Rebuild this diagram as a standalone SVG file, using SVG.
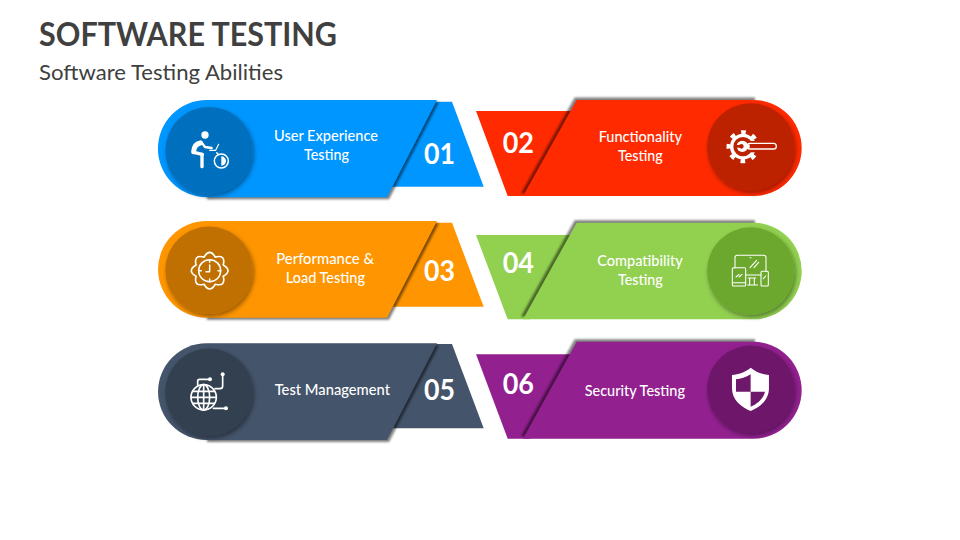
<svg xmlns="http://www.w3.org/2000/svg" width="960" height="540" viewBox="0 0 960 540">
<style>
text{font-family:"Lato","Liberation Sans",sans-serif;fill:#fff}
.t{font-weight:700;fill:#404040;font-size:31.5px}
.s{fill:#404040;font-size:20.5px}
.l{font-size:14.4px;font-weight:500}
.n{font-size:29px;font-weight:700}
.sh{fill:#000;opacity:.5;filter:url(#blur)}
.c{filter:url(#cs)}
.st{fill:none;stroke:#fff;stroke-linecap:round;stroke-linejoin:round}
.w{fill:#fff}
</style>
<defs>
<filter id="blur" x="-10%" y="-10%" width="120%" height="120%"><feGaussianBlur stdDeviation="1.1"/></filter>
<filter id="cs" x="-20%" y="-20%" width="140%" height="140%"><feDropShadow dx="1.5" dy="2.5" stdDeviation="2.2" flood-color="#000" flood-opacity=".4"/></filter>
</defs>
<g id="title">
<text class="t" x="39" y="46" textLength="298" lengthAdjust="spacingAndGlyphs">SOFTWARE TESTING</text>
<text class="s" x="39" y="80" textLength="244" lengthAdjust="spacingAndGlyphs">Software Testing Abilities</text>
</g>

<g id="node-01">
<polygon fill="#0096FF" points="380,101.7 452,101.7 483.7,186.7 380,186.7"/>
<polygon class="sh" transform="translate(2,2)" points="205,100 437,100 387,197.3 205,197.3"/>
<path fill="#0096FF" d="M206.6,100H437L387,197.3H206.6A48.65,48.65 0 0 1 206.6,100Z"/>
<circle class="c" fill="#0070BE" cx="209" cy="150.7" r="43.7"/>
<g transform="translate(175,115) scale(.3333)">
<circle class="w" cx="90" cy="60" r="11"/>
<path class="st" stroke-width="15" d="M76,84C65,86 57,94 56,110"/>
<path class="st" stroke-width="10" d="M56,112L82,118"/>
<path class="st" stroke-width="10" d="M81,118V155"/>
<path class="st" stroke-width="7" d="M78,80L90,96L110,99"/>
<path class="st" stroke-width="3.5" d="M104,106H122L131,88"/>
<circle class="st" stroke-width="4.5" cx="139" cy="138" r="21"/>
<path class="w" d="M139,124A14,14 0 0 1 139,152Z"/>
<path class="st" stroke-width="4" d="M125,113L131,119"/>
</g>
<text class="l" x="274" y="141" textLength="104" lengthAdjust="spacingAndGlyphs">User Experience</text>
<text class="l" x="304" y="160" textLength="45" lengthAdjust="spacingAndGlyphs">Testing</text>
<text class="n" x="424" y="164" textLength="31" lengthAdjust="spacingAndGlyphs">01</text>
</g>

<g id="node-02">
<polygon fill="#FF2A00" points="476,111 580,111 530,196 507.7,196"/>
<polygon class="sh" transform="translate(-2,-2.5)" points="576.7,100 757,100 757,196 523,196"/>
<path fill="#FF2A00" d="M576.7,100H753.7A48,48 0 0 1 753.7,196H523Z"/>
<circle class="c" fill="#BC2000" cx="750.7" cy="147" r="43.7"/>
<g transform="translate(715,115) scale(.3333)">
<circle fill="none" stroke="#fff" stroke-width="13" stroke-dasharray="14 19.8" stroke-dashoffset="7" cx="84" cy="95" r="43"/>
<circle fill="none" stroke="#fff" stroke-width="10" cx="84" cy="95" r="34"/>
<rect fill="#BC2000" x="105" y="78" width="36" height="34"/>
<rect fill="#BC2000" stroke="#fff" stroke-width="4" x="96" y="85" width="88" height="17" rx="8.5"/>
<circle class="w" cx="82" cy="94" r="17"/>
<circle fill="#BC2000" cx="79" cy="94" r="7"/>
<rect fill="#BC2000" x="60" y="90" width="18" height="8"/>
<rect class="w" x="94" y="88" width="10" height="11"/>
</g>
<text class="l" x="598.7" y="142" textLength="83.3" lengthAdjust="spacingAndGlyphs">Functionality</text>
<text class="l" x="618" y="161" textLength="44.7" lengthAdjust="spacingAndGlyphs">Testing</text>
<text class="n" x="502.7" y="153" textLength="31.3" lengthAdjust="spacingAndGlyphs">02</text>
</g>

<g id="node-03">
<polygon fill="#FF9500" points="380,222.7 452,222.7 483.7,306.7 380,306.7"/>
<polygon class="sh" transform="translate(2,2)" points="205,221 437,221 387,317.7 205,317.7"/>
<path fill="#FF9500" d="M206.4,221H437L387,317.7H206.4A48.35,48.35 0 0 1 206.4,221Z"/>
<circle class="c" fill="#C07000" cx="209" cy="270.3" r="43.7"/>
<g transform="translate(175,237) scale(.3333) translate(104,101)" class="st" stroke-width="4.5">
<path transform="scale(1.1)" d="M37,-15.3Q63,0 37,15.3Q44.5,44.5 15.3,37Q0,63 -15.3,37Q-44.5,44.5 -37,15.3Q-63,0 -37,-15.3Q-44.5,-44.5 -15.3,-37Q0,-63 15.3,-37Q44.5,-44.5 37,-15.3Z"/>
<circle r="33"/>
<path d="M0,-17V3H-11"/>
<path d="M0,-33V-25M0,33V25M-33,0H-25M33,0H25"/>
</g>
<text class="l" x="276.3" y="264" textLength="97.7" lengthAdjust="spacingAndGlyphs">Performance &amp;</text>
<text class="l" x="285.7" y="283" textLength="79.3" lengthAdjust="spacingAndGlyphs">Load Testing</text>
<text class="n" x="424" y="281.3" textLength="31" lengthAdjust="spacingAndGlyphs">03</text>
</g>

<g id="node-04">
<polygon fill="#92D050" points="476,235 580,235 530,319.3 507.7,319.3"/>
<polygon class="sh" transform="translate(-2,-2.5)" points="576.7,222.7 757,222.7 757,319.3 523,319.3"/>
<path fill="#92D050" d="M576.7,222.7H753.4A48.3,48.3 0 0 1 753.4,319.3H523Z"/>
<circle class="c" fill="#6CA82E" cx="750.7" cy="271" r="43.7"/>
<g transform="translate(715,237) scale(.3333)" class="st" stroke-width="3.2">
<path d="M60,92V62Q60,55 67,55H146Q153,55 153,62V103M92,114H138"/>
<path d="M105,62H108"/>
<path d="M105,92L125,70M117,92L131,76"/>
<rect x="52" y="92" width="40" height="55" rx="3"/>
<path d="M52,137H92M63,120L72,112M72,120L81,112"/>
<rect x="138" y="103" width="22" height="44" rx="3"/>
<path d="M145,125L152,117"/>
<path d="M104,124V143M118,124V143M98,144H128M100,123H122"/>
</g>
<text class="l" x="597.3" y="266" textLength="85.4" lengthAdjust="spacingAndGlyphs">Compatibility</text>
<text class="l" x="618" y="285" textLength="44.7" lengthAdjust="spacingAndGlyphs">Testing</text>
<text class="n" x="502.7" y="273" textLength="31.3" lengthAdjust="spacingAndGlyphs">04</text>
</g>

<g id="node-05">
<polygon fill="#44546A" points="380,344 452,344 483.7,428.3 380,428.3"/>
<polygon class="sh" transform="translate(2,2)" points="205,343.3 437,343.3 387,440 205,440"/>
<path fill="#44546A" d="M206.4,343.3H437L387,440H206.4A48.35,48.35 0 0 1 206.4,343.3Z"/>
<circle class="c" fill="#333F50" cx="209" cy="392.3" r="43.7"/>
<g transform="translate(175,360) scale(.3333)" class="st" stroke-width="5">
<circle cx="86" cy="112" r="38"/>
<ellipse cx="86" cy="112" rx="18" ry="38"/>
<path d="M86,74V150M48,112H124M54,94H118M54,130H118"/>
<path d="M68,76V64Q68,58 74,58H105M120,86H135Q143,86 143,78V44M115,145H153"/>
<circle class="w" stroke="none" cx="105" cy="58" r="6"/>
<circle class="w" stroke="none" cx="143" cy="43" r="6"/>
<circle class="w" stroke="none" cx="153" cy="145" r="6"/>
</g>
<text class="l" x="274.7" y="395" textLength="115.3" lengthAdjust="spacingAndGlyphs">Test Management</text>
<text class="n" x="424" y="400" textLength="31" lengthAdjust="spacingAndGlyphs">05</text>
</g>

<g id="node-06">
<polygon fill="#92208F" points="476,354.3 580,354.3 530,438.7 507.7,438.7"/>
<polygon class="sh" transform="translate(-2,-2.5)" points="576.7,341.7 757,341.7 757,438.7 523,438.7"/>
<path fill="#92208F" d="M576.7,341.7H753.2A48.5,48.5 0 0 1 753.2,438.7H523Z"/>
<circle class="c" fill="#6D186B" cx="750.7" cy="389.3" r="43.7"/>
<g transform="translate(470,335) scale(.3333)">
<path class="w" d="M842,98C825,112 805,118 786,120L786,160C786,195 815,218 842,228C869,218 897,195 897,160L897,120C878,118 859,112 842,98Z"/>
<path fill="#6D186B" d="M842,118C828,127 812,132 798,133L798,170L842,170Z"/>
<path fill="#6D186B" d="M842,170L885,170C881,190 862,207 842,215Z"/>
</g>
<text class="l" x="584.7" y="396" textLength="100.3" lengthAdjust="spacingAndGlyphs">Security Testing</text>
<text class="n" x="502.7" y="394" textLength="31.3" lengthAdjust="spacingAndGlyphs">06</text>
</g>
</svg>
